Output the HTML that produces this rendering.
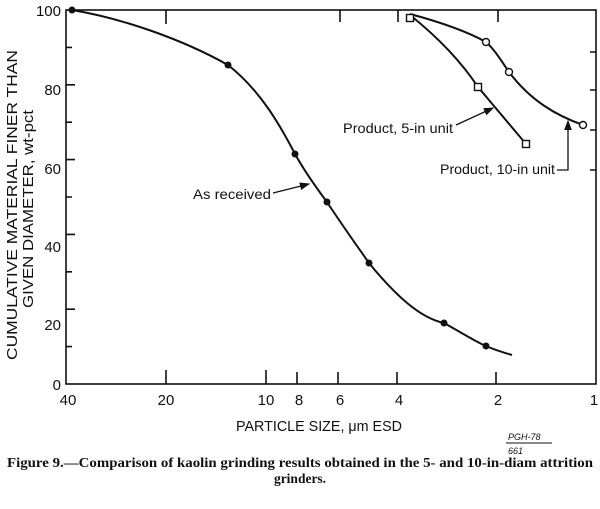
<!DOCTYPE html>
<html><head><meta charset="utf-8"><style>
html,body{margin:0;padding:0;background:#fff;}
svg{display:block;}
</style></head><body>
<svg width="600" height="509" viewBox="0 0 600 509" xmlns="http://www.w3.org/2000/svg">
<defs><marker id="ah" markerWidth="8" markerHeight="6" refX="7" refY="3" orient="auto"><path d="M0,0 L8,3 L0,6 z" fill="#111"/></marker></defs>
<g stroke="#111" stroke-width="1.6" fill="none">
<rect x="66" y="10" width="530" height="374"/>
<path d="M66,47.4h6M66,84.8h9M66,122.2h6M66,159.6h9M66,197h6M66,234.4h9M66,271.8h6M66,309.2h9M66,346.6h6"/>
<path d="M596,52h-6M596,90h-6M596,130h-6M596,170h-6"/>
<path d="M166,384v-14M266,384v-14M297,384v-12M338,384v-12M397,384v-12M496,384v-12"/>
<path d="M166,10v14M340,10v12M398,10v12M498,10v12"/>
</g>
<g stroke="#111" stroke-width="2" fill="none">
<path d="M72,10 C120,18 180,38 228,65 C260,90 280,125 295,154 C305,172 318,190 327,202 C340,222 355,243 369,263 C395,295 420,318 444,323 C462,333 480,344 486,346 C495,350 505,353 512,355"/>
<path d="M410,15 C435,35 460,60 478,87 L526,144"/>
<path d="M410,14 C440,22 468,32 486,42 C495,50 502,62 509,72 C530,100 555,115 583,125"/>
</g>
<g fill="#111">
<circle cx="72" cy="10" r="3.5"/><circle cx="228" cy="65" r="3.5"/><circle cx="295" cy="154" r="3.5"/><circle cx="327" cy="202" r="3.5"/><circle cx="369" cy="263" r="3.5"/><circle cx="444" cy="323" r="3.5"/><circle cx="486" cy="346" r="3.5"/>
</g>
<g fill="#fff" stroke="#111" stroke-width="1.4">
<rect x="406.5" y="14.5" width="7" height="7"/><rect x="474.5" y="83.5" width="7" height="7"/><rect x="522.5" y="140.5" width="7" height="7"/>
<circle cx="486" cy="42" r="3.5"/><circle cx="509" cy="72" r="3.5"/><circle cx="583" cy="125" r="3.5"/>
</g>
<g stroke="#111" stroke-width="1.3" fill="none" marker-end="url(#ah)">
<path d="M273,193 L309,184"/>
<path d="M456,125 L493,108"/>
<path d="M557,170 L568,170 L568,121"/>
</g>
<g font-family="Liberation Sans, sans-serif" font-size="14" fill="#111">
<text x="193" y="199" textLength="78" lengthAdjust="spacingAndGlyphs">As received</text>
<text x="343" y="133" textLength="110" lengthAdjust="spacingAndGlyphs">Product, 5-in unit</text>
<text x="440" y="174" textLength="115" lengthAdjust="spacingAndGlyphs">Product, 10-in unit</text>
<g text-anchor="end" font-size="15">
<text x="61" y="16">100</text><text x="61" y="95">80</text><text x="61" y="174">60</text><text x="61" y="252">40</text><text x="61" y="330">20</text><text x="61" y="390">0</text>
</g>
<g text-anchor="middle" font-size="15">
<text x="68" y="405">40</text><text x="166" y="405">20</text><text x="266" y="405">10</text><text x="299" y="405">8</text><text x="340" y="405">6</text><text x="399" y="405">4</text><text x="498" y="405">2</text><text x="594" y="405">1</text>
</g>
<text x="236" y="431" font-size="15" textLength="166" lengthAdjust="spacingAndGlyphs">PARTICLE SIZE, μm ESD</text>
<text transform="translate(17,360) rotate(-90)" font-size="15" textLength="310" lengthAdjust="spacingAndGlyphs">CUMULATIVE MATERIAL FINER THAN</text>
<text transform="translate(33,308) rotate(-90)" font-size="15" textLength="198" lengthAdjust="spacingAndGlyphs">GIVEN DIAMETER, wt-pct</text>
<text x="508" y="440" font-size="9" font-style="italic">PGH-78</text>
<text x="508" y="454" font-size="9" font-style="italic">661</text>
</g>
<path d="M506,443 H552" stroke="#111" stroke-width="1"/>
<g font-family="Liberation Serif, serif" font-weight="bold" font-size="13.5" fill="#111" text-anchor="middle">
<text x="300" y="467" textLength="586" lengthAdjust="spacingAndGlyphs">Figure 9.—Comparison of kaolin grinding results obtained in the 5- and 10-in-diam attrition</text>
<text x="300" y="483">grinders.</text>
</g>
</svg>
</body></html>
